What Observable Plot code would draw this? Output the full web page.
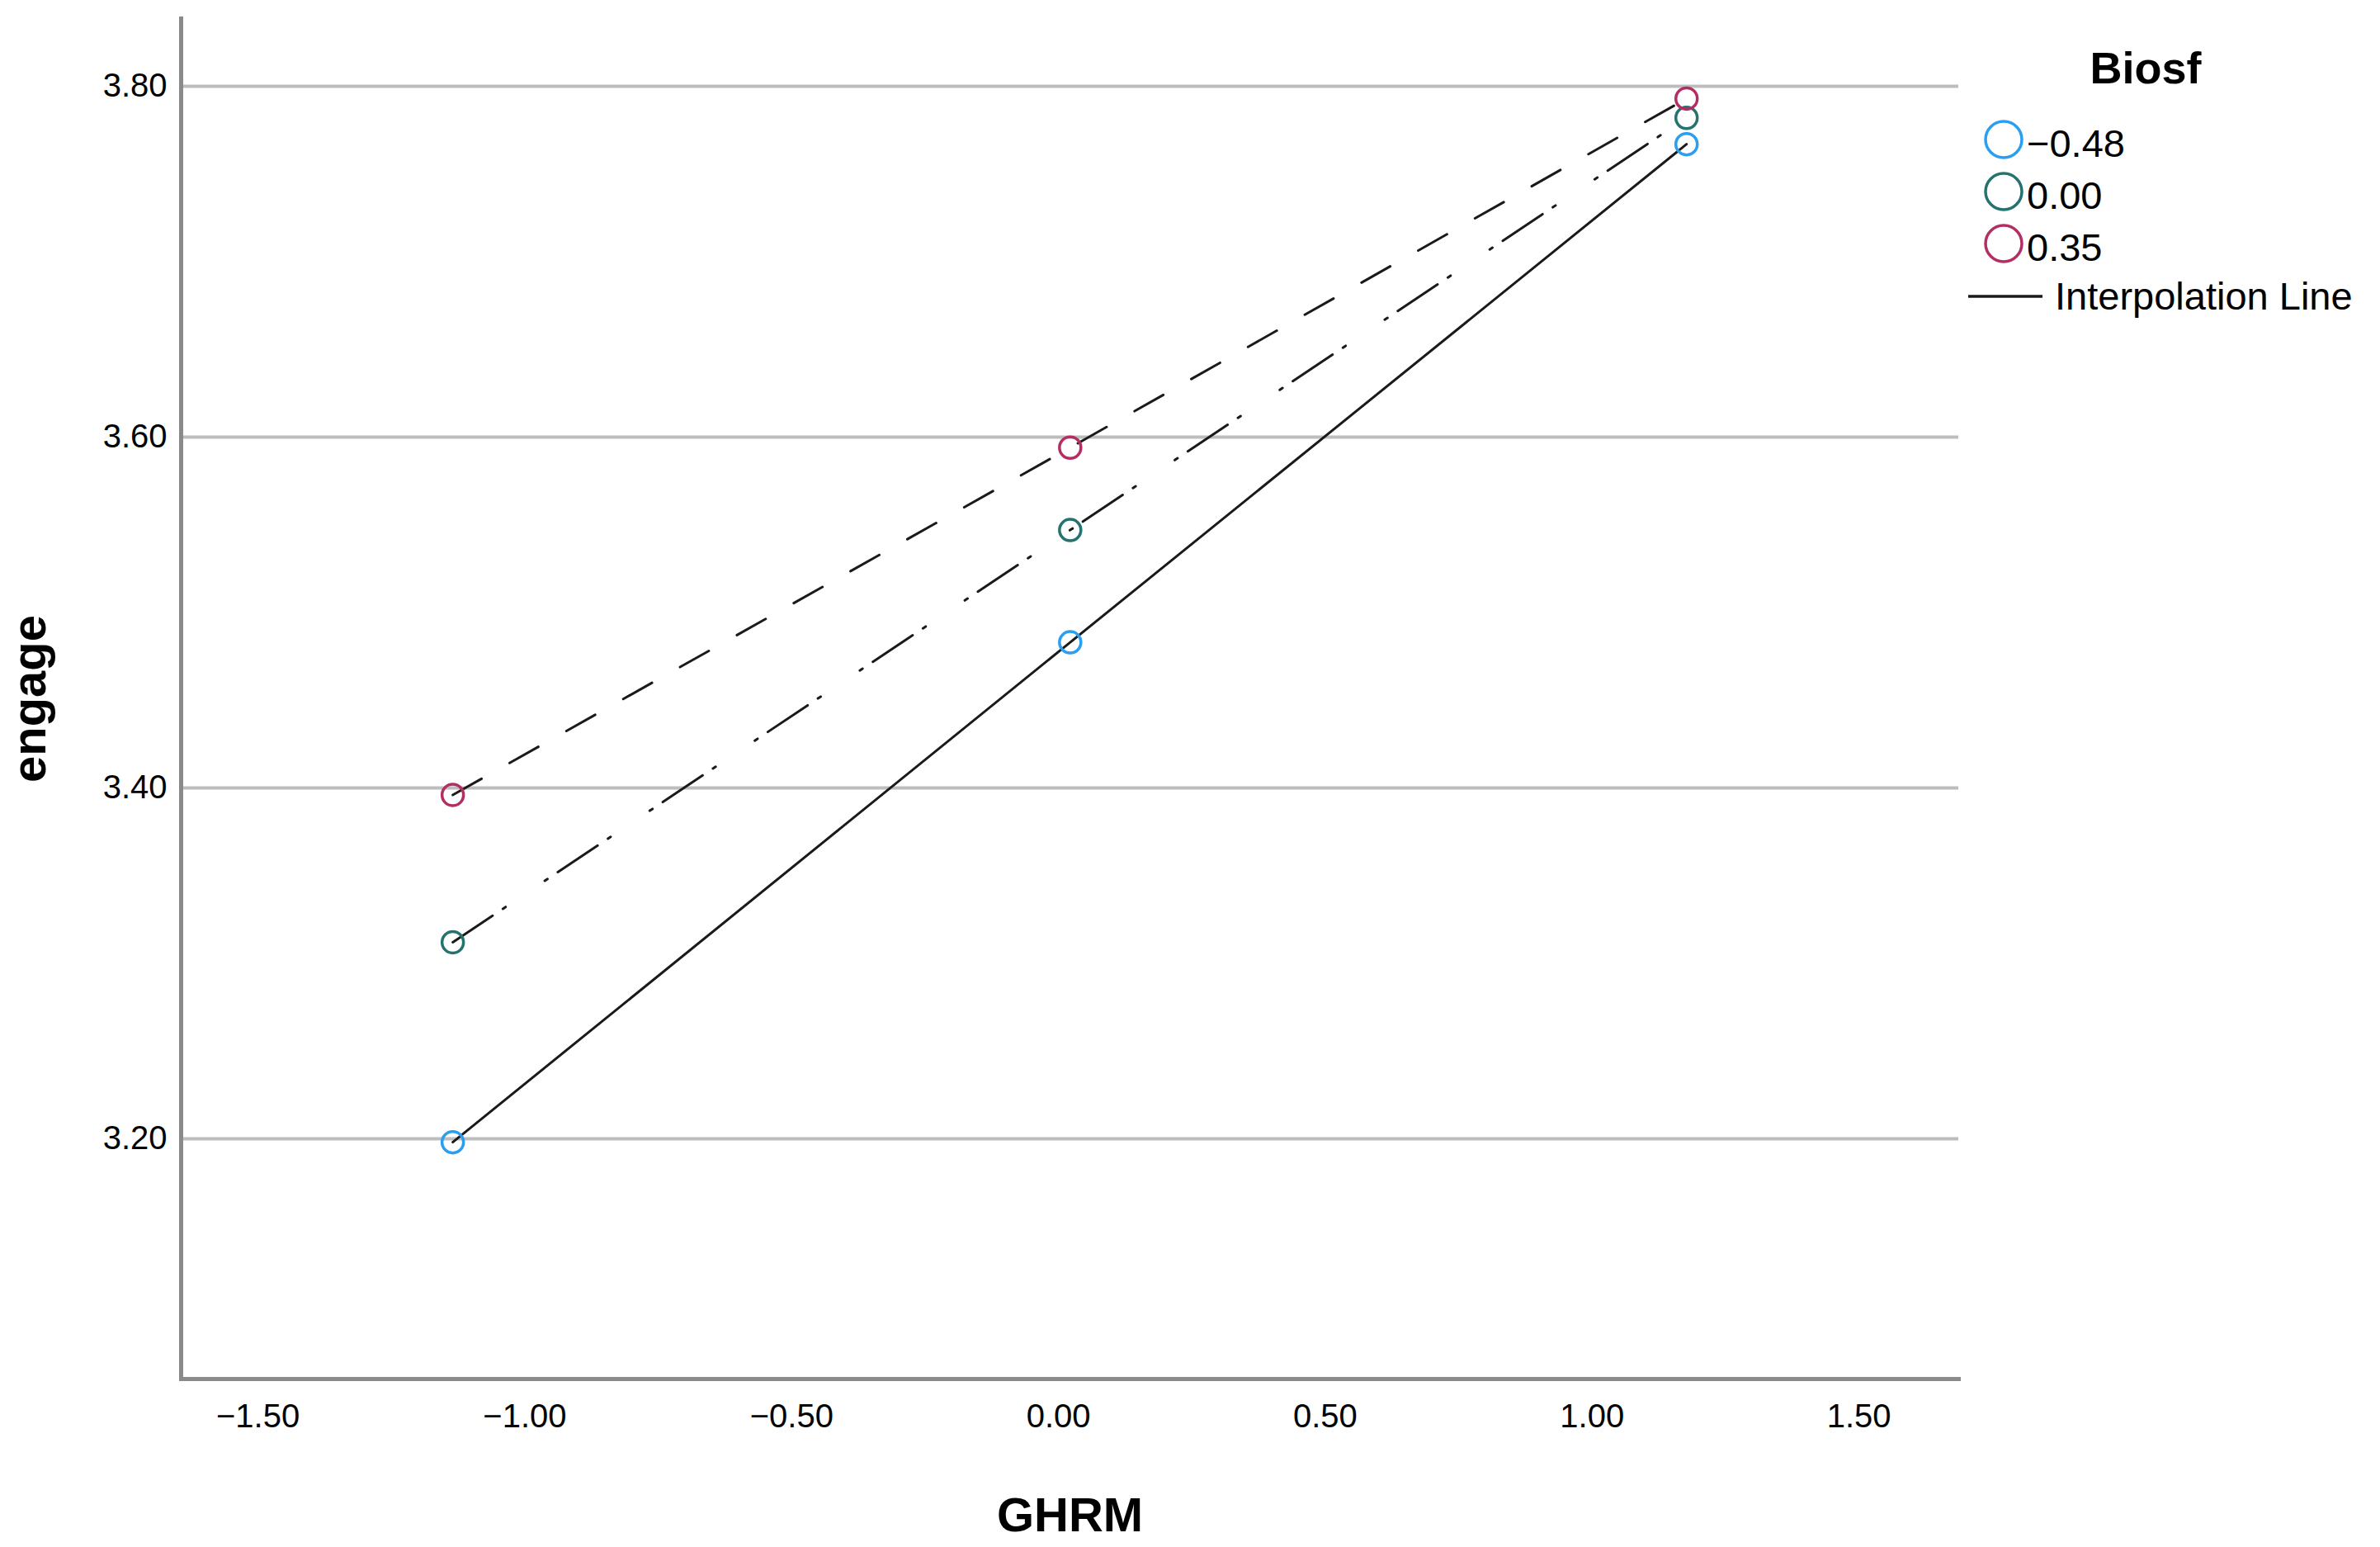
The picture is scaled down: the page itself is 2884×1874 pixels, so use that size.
<!DOCTYPE html>
<html>
<head>
<meta charset="utf-8">
<script src="https://cdn.jsdelivr.net/npm/d3@7"></script>
<script src="https://cdn.jsdelivr.net/npm/@observablehq/plot@0.6"></script>
<style>
  html, body { margin: 0; padding: 0; background: #fff; }
  #wrap { position: relative; width: 2884px; height: 1874px; font-family: "Liberation Sans", Arial, sans-serif; }
  #legend { position: absolute; left: 0; top: 0; pointer-events: none; }
  g[aria-label="x-axis label"] text, g[aria-label="y-axis label"] text { font-weight: bold; font-size: 58px; }
</style>
</head>
<body>
<div id="wrap"></div>
<script>
// ---- data ----
const ghrm = [-1.135, 0.022, 1.177];               // x positions (GHRM)
const biosfLevels = [-0.48, 0.00, 0.35];           // moderator levels
const engageLow  = [3.198, 3.483, 3.767];          // Biosf = -0.48
const engageMid  = [3.312, 3.547, 3.782];          // Biosf =  0.00
const engageHigh = [3.396, 3.594, 3.793];          // Biosf =  0.35
const xTicks = [-1.5, -1.0, -0.5, 0, 0.5, 1.0, 1.5];
const yTicks = [3.2, 3.4, 3.6, 3.8];
const xDomain = [-1.644, 1.687];
const yDomain = [3.063, 3.8386];

const fmt = d3.format(".2f");
const seriesValues = [engageLow, engageMid, engageHigh];
const colors = ["#2a9ef0", "#24736e", "#b22f63"];
const dashes = [null, "58,15,4,57,4,15", "40,39"];

const rows = [];
biosfLevels.forEach((b, i) => ghrm.forEach((x, j) => rows.push({biosf: fmt(b), GHRM: x, engage: seriesValues[i][j]})));
const levelNames = biosfLevels.map(fmt);

const lineMarks = levelNames.map((name, i) =>
  Plot.line(rows.filter(d => d.biosf === name), {
    x: "GHRM", y: "engage", stroke: "#1a1a1a", strokeWidth: 3,
    strokeDasharray: dashes[i] ?? undefined
  })
);

const chart = Plot.plot({
  width: 2884,
  height: 1874,
  marginLeft: 219,
  marginRight: 511,
  marginTop: 22,
  marginBottom: 204,
  style: { fontFamily: "'Liberation Sans', Arial, sans-serif", fontSize: "40px", color: "#000", background: "#fff" },
  x: { domain: xDomain, labelArrow: "none" },
  y: { domain: yDomain, labelArrow: "none" },
  color: { domain: levelNames, range: colors },
  marks: [
    Plot.gridY(yTicks, { stroke: "#bdbdbd", strokeOpacity: 1, strokeWidth: 4 }),
    Plot.frame({ anchor: "left", stroke: "#8a8a8a", strokeWidth: 5 }),
    Plot.frame({ anchor: "bottom", stroke: "#8a8a8a", strokeWidth: 5 }),
    Plot.axisX(xTicks, { tickFormat: fmt, tickSize: 0, tickPadding: 30, fontSize: 40,
      label: "GHRM", labelArrow: "none", labelAnchor: "center", labelOffset: 184 }),
    Plot.axisY(yTicks, { tickFormat: fmt, tickSize: 0, tickPadding: 17, fontSize: 40,
      label: "engage", labelArrow: "none", labelAnchor: "center", labelOffset: 206 }),
    ...lineMarks,
    Plot.dot(rows, { x: "GHRM", y: "engage", stroke: "biosf", r: 13, strokeWidth: 3.5, fill: "none" })
  ]
});
document.getElementById("wrap").appendChild(chart);

// ---- legend (right side) ----
const leg = d3.select("#wrap").append("svg").attr("id", "legend")
  .attr("width", 2884).attr("height", 420)
  .style("font-family", "'Liberation Sans', Arial, sans-serif");
leg.append("text").attr("x", 2600).attr("y", 101).attr("text-anchor", "middle")
  .attr("font-weight", "bold").attr("font-size", 54).text("Biosf");
levelNames.forEach((name, i) => {
  const cy = 169 + i * 63;
  leg.append("circle").attr("cx", 2428).attr("cy", cy).attr("r", 22)
    .attr("fill", "none").attr("stroke", colors[i]).attr("stroke-width", 3.5);
  leg.append("text").attr("x", 2456).attr("y", cy + 21).attr("font-size", 47).text(name);
});
leg.append("line").attr("x1", 2385).attr("x2", 2475).attr("y1", 359).attr("y2", 359)
  .attr("stroke", "#1a1a1a").attr("stroke-width", 3.5);
leg.append("text").attr("x", 2490).attr("y", 375).attr("font-size", 47).text("Interpolation Line");
</script>
</body>
</html>
